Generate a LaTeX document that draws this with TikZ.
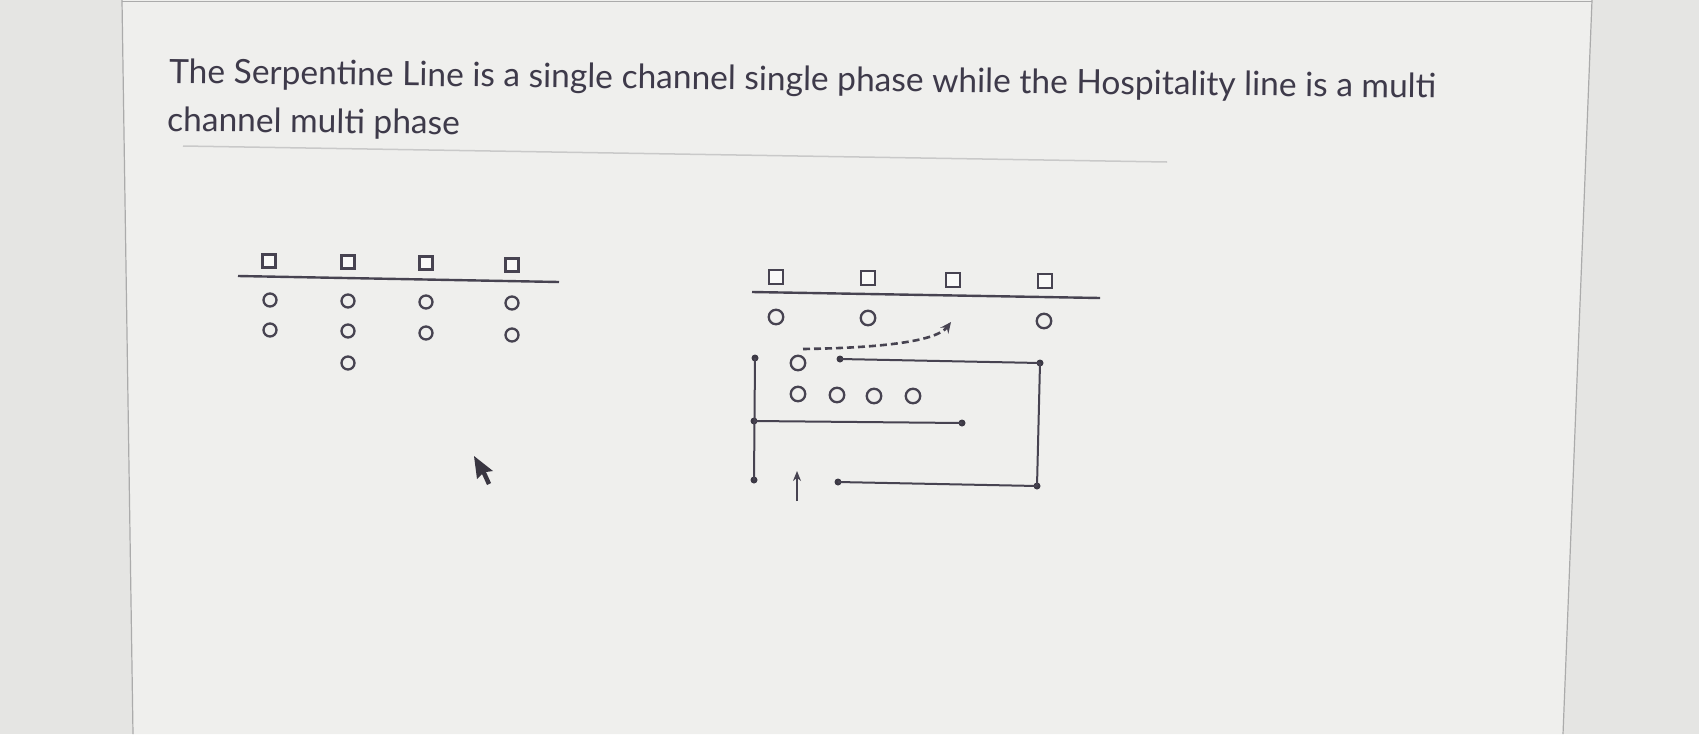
\documentclass[tikz,border=0pt]{standalone}
\usepackage{fontspec}
\setmainfont{Lato}
\usetikzlibrary{arrows.meta}
\definecolor{bgout}{HTML}{E5E5E3}
\definecolor{bgpage}{HTML}{EFEFED}
\definecolor{edge}{HTML}{ABABAB}
\definecolor{ink}{HTML}{3E3A4A}
\definecolor{stroke}{HTML}{474351}
\definecolor{sep}{HTML}{C9C9C9}
\tikzset{
  sq/.style={draw=stroke,line width=2.3pt,minimum size=13pt,inner sep=0pt,fill=white!60!bgpage},
  sqb/.style={sq,minimum size=14pt},
  cir/.style={circle,draw=stroke,line width=2.3pt,minimum size=13pt,inner sep=0pt},
  cirb/.style={cir,minimum size=14.5pt},
  dotn/.style={circle,fill=stroke!85!black,minimum size=7pt,inner sep=0pt},
  wire/.style={draw=stroke,line width=2pt},
  rule/.style={draw=stroke,line width=2.4pt},
  txt/.style={text=ink,anchor=base west,inner sep=0pt,text height=0.9em,text depth=0.15em,font=\fontsize{33.5}{40}\selectfont}
}
\begin{document}
\begin{tikzpicture}[x=1pt,y=-1pt]
\useasboundingbox (0,0) rectangle (1699,734);
\fill[bgout] (0,0) rectangle (1699,734);
\fill[bgpage] (122,0) -- (1592,0) -- (1563,734) -- (133,734) -- cycle;
\draw[edge,line width=1.2pt] (122,0) -- (133,734);
\draw[edge,line width=1.2pt] (1592,0) -- (1563,734);
\draw[edge,line width=1pt] (122,1) -- (1592,1);
% title text
\node[txt,rotate=-0.68] (t1) at (169,83) {The Serpentine Line is a single channel single phase while the Hospitality line is a multi};
\node[txt,rotate=-0.68] (t2) at (167,131) {channel multi phase};
\draw[sep,line width=1.5pt] (183,146) -- (1167,162);
% left diagram: serpentine line
\node[sq] (ls1) at (269,261) {};
\node[sq] (ls2) at (348,262) {};
\node[sq] (ls3) at (426,263) {};
\node[sq] (ls4) at (512,265) {};
\coordinate (lla) at (238,276);
\coordinate (llb) at (559,282);
\draw[rule] (lla) -- (llb);
\node[cir] (la1) at (270,300) {};
\node[cir] (la2) at (348,301) {};
\node[cir] (la3) at (426,302) {};
\node[cir] (la4) at (512,303) {};
\node[cir] (lb1) at (270,330) {};
\node[cir] (lb2) at (348,331) {};
\node[cir] (lb3) at (426,333) {};
\node[cir] (lb4) at (512,335) {};
\node[cir] (lc2) at (348,363) {};
% right diagram: hospitality line
\node[sqb] (rs1) at (776,277) {};
\node[sqb] (rs2) at (868,278) {};
\node[sqb] (rs3) at (953,280) {};
\node[sqb] (rs4) at (1045,281) {};
\coordinate (rla) at (752,292);
\coordinate (rlb) at (1100,298);
\draw[rule] (rla) -- (rlb);
\node[cirb] (ra1) at (776,317) {};
\node[cirb] (ra2) at (868,318) {};
\node[cirb] (ra4) at (1044,321) {};
\node[cirb] (rq0) at (798,363) {};
\node[cirb] (rq1) at (798,394) {};
\node[cirb] (rq2) at (837,395) {};
\node[cirb] (rq3) at (874,396) {};
\node[cirb] (rq4) at (913,396) {};
% dashed path to free server
\coordinate (dsA) at (803,349);
\coordinate (dsB) at (951,322);
\draw[draw=stroke,line width=2.6pt,dash pattern=on 7pt off 4pt,-{Stealth[length=11pt,width=10pt,inset=4pt]}]
  (dsA) .. controls (870,348) and (935,343) .. (dsB);
% queue barriers
\node[dotn] (dTL) at (755,358) {};
\node[dotn] (dML) at (754,421) {};
\node[dotn] (dBL) at (754,480) {};
\node[dotn] (dT1) at (840,359) {};
\node[dotn] (dTR) at (1040,363) {};
\node[dotn] (dBR) at (1037,486) {};
\node[dotn] (dB1) at (838,482) {};
\node[dotn] (dM1) at (962,423) {};
\draw[wire] (dTL.center) -- (dBL.center);
\draw[wire] (dML.center) -- (dM1.center);
\draw[wire] (dT1.center) -- (dTR.center);
\draw[wire] (dTR.center) -- (dBR.center);
\draw[wire] (dB1.center) -- (dBR.center);
% entry arrow
\coordinate (inA) at (797,501);
\coordinate (inB) at (797,471);
\draw[draw=stroke,line width=2pt,-{Stealth[length=10pt,width=8pt]}] (inA) -- (inB);
% mouse cursor
\fill[stroke!80!black] (474,456) -- (477,479) -- (482,474) -- (487,485) -- (491,483) -- (486,472) -- (493,471) -- cycle;
\end{tikzpicture}
\end{document}
